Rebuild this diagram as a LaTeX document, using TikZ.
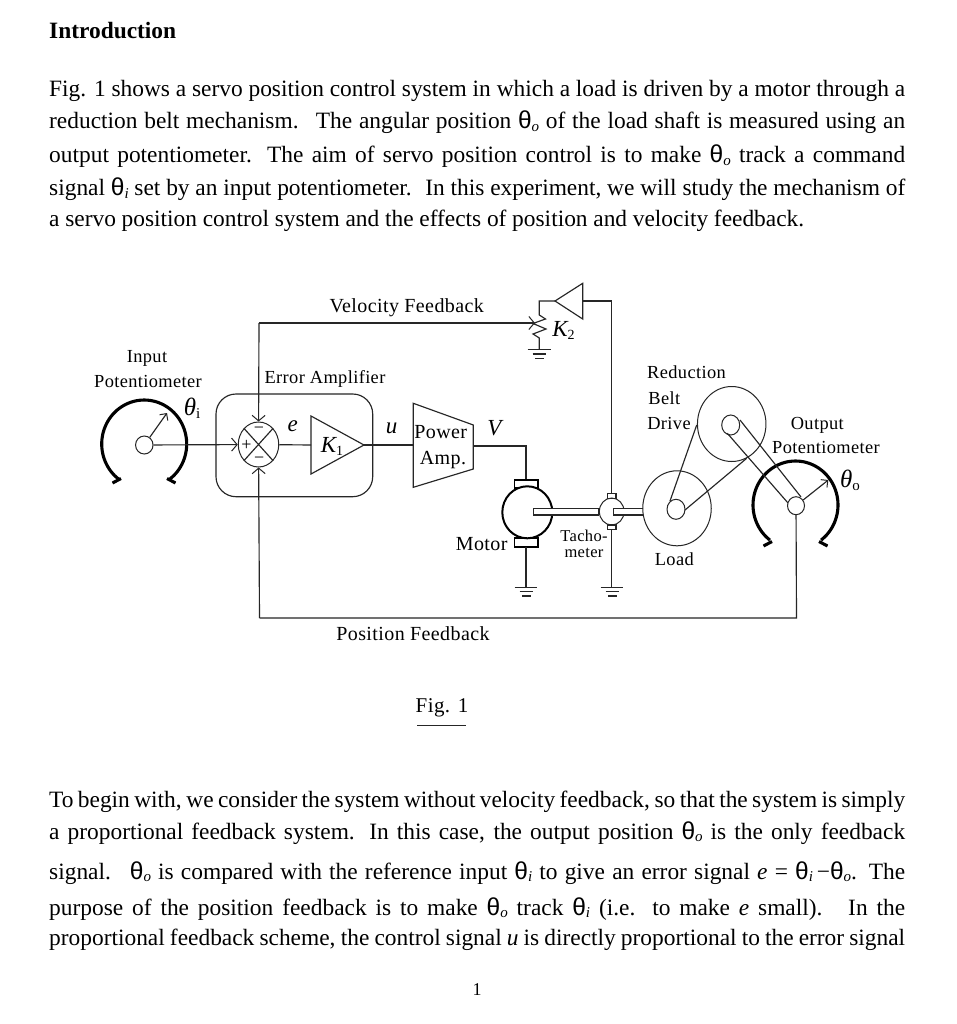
\documentclass[tikz,border=0pt]{standalone}
\usepackage{fontspec}
\setmainfont{Liberation Serif}
\newfontfamily\lsans{Liberation Sans}
\newfontfamily\dfont[LetterSpace=2]{Liberation Serif}
\usetikzlibrary{arrows.meta,shapes.geometric}
\newcommand\thb{{\lsans\fontsize{24.5}{26}\selectfont θ}}
\newcommand\tho{\thb\raisebox{-2.5pt}{\fontsize{15}{15}\selectfont\itshape o}}
\newcommand\thi{\thb\raisebox{-2.5pt}{\fontsize{15}{15}\selectfont\itshape i}}
\newcommand\bodyline[4]{\node[bodytext] (#1) at (49,#2) {\spaceskip=.25em plus 1.5em minus .2em\makebox[#3pt][s]{#4}};}
\tikzset{
 x=1pt,y=-1pt,
 bodytext/.style={anchor=base west,inner sep=0,font=\fontsize{23.4}{26}\selectfont},
 lab/.style={inner sep=0,font=\dfont\fontsize{20}{22}\selectfont},
 narrowlab/.style={inner sep=0,font=\dfont\fontsize{18.4}{20}\selectfont},
 smalllab/.style={inner sep=0,font=\dfont\fontsize{16.5}{19}\selectfont},
 sym/.style={inner sep=0,font=\fontsize{23}{25}\selectfont\itshape},
 wire/.style={line width=1.15pt,draw=black!85},
 thin circle/.style={ellipse,draw=black!85,line width=1pt,inner sep=0,fill=white},
 potarc/.style={line width=3.1pt,line cap=butt},
 tipopen/.style={-{Straight Barb[length=5.5pt,width=13pt,line width=1pt]}},
 tipsmall/.style={-{Straight Barb[length=5pt,width=10pt,line width=1pt]}},
}
\begin{document}
\begin{tikzpicture}
\useasboundingbox[fill=white] (0,0) rectangle (957,1024);
% --- text
\node[bodytext,font=\fontsize{23.4}{26}\selectfont\bfseries] (intro) at (49,39) {Introduction};
\bodyline{a1}{97}{856}{Fig. 1 shows a servo position control system in which a load is driven by a motor through a}
\bodyline{a2}{129}{856}{reduction belt mechanism.~ The angular position \tho\ of the load shaft is measured using an}
\bodyline{a3}{163}{856}{output potentiometer. The aim of servo position control is to make \tho\ track a command}
\bodyline{a4}{196}{856}{signal \thi\ set by an input potentiometer.~ In this experiment, we will study the mechanism of}
\bodyline{a5}{226}{755}{a servo position control system and the effects of position and velocity feedback.}
\bodyline{b1}{807}{856}{To begin with, we consider the system without velocity feedback, so that the system is simply}
\bodyline{b2}{839}{856}{a proportional feedback system. In this case, the output position \tho\ is the only feedback}
\bodyline{b3}{879}{856}{signal.~ \tho\ is compared with the reference input \thi\ to give an error signal \textit{e} = \thi\,−\tho. The}
\bodyline{b4}{915}{856}{purpose of the position feedback is to make \tho\ track \thi\ (i.e. to make \textit{e} small).~ In the}
\bodyline{b5}{945}{856}{proportional feedback scheme, the control signal \textit{u} is directly proportional to the error signal}
\node[anchor=base,inner sep=0,font=\fontsize{18}{20}\selectfont] (pg) at (477,995) {1};
% --- coordinates
\coordinate (k1in) at (311,445); \coordinate (k1out) at (364,445);
\coordinate (pain) at (413.3,445); \coordinate (paout) at (473.3,446);
\coordinate (vtop) at (259,323); \coordinate (vend) at (535,323);
\coordinate (vcor) at (526,446);
\coordinate (brT) at (526,480); \coordinate (brB) at (526,547);
\coordinate (g1) at (526,587); \coordinate (g2) at (611.7,587); \coordinate (g3) at (539.3,349.5);
\coordinate (takT) at (611.7,494); \coordinate (takB) at (611.7,529.5);
\coordinate (tcor) at (611.7,301);
\coordinate (k2in) at (582.7,301); \coordinate (k2out) at (555,301); \coordinate (rtop) at (539.3,301);
\coordinate (pfl) at (259.5,618); \coordinate (pfr) at (796.5,618);
% --- error amplifier box
\draw[wire,rounded corners=20pt] (216,394) rectangle (372.7,496.7);
% --- input potentiometer
\node[thin circle,minimum width=17.5pt,minimum height=18pt] (ipot) at (144.3,445) {};
\draw[potarc] plot[smooth,domain=127:413,samples=40] ({144.2+42.5*cos(\x)},{444+44*sin(\x)});
\draw[potarc] (112.5,483) -- (121,478.5);
\draw[potarc] (167,478.5) -- (175.5,483);
\coordinate (ipa) at (167,413);
\draw[wire,tipsmall] (ipot) -- (ipa);
% --- summing junction
\node[thin circle,minimum width=40.5pt,minimum height=45pt] (sum) at (258.5,444.5) {};
\draw[wire] (sum.north west) -- (sum.south east) (sum.north east) -- (sum.south west);
\node[inner sep=0,font=\fontsize{18}{18}\selectfont] (plus) at (246.5,445) {+};
\node[inner sep=0,font=\fontsize{18}{18}\selectfont] (mt) at (259,430) {−};
\node[inner sep=0,font=\fontsize{18}{18}\selectfont] (mb) at (259.3,460) {−};
\draw[wire,tipopen] (ipot) -- (sum);
\draw[wire,tipopen] (vtop) -- (sum);
\draw[wire,tipopen] (pfl) -- (sum);
% --- K1 / power amp
\draw[wire] (311,416) -- (k1out) -- (311,474) -- cycle;
\draw[wire] (sum) -- (k1in);
\draw[wire] (k1out) -- (pain);
\draw[wire] (413.3,403.3) -- (473.3,425) -- (473.3,469) -- (413.3,487.3) -- cycle;
\draw[wire] (paout) -- (vcor) -- (brT);
% --- velocity feedback
\draw[wire,tipopen] (vtop) -- (vend);
\draw[wire] (555,301) -- (582.7,283.3) -- (582.7,319) -- cycle;
\draw[wire] (k2in) -- (tcor) -- (takT);
\draw[wire] (k2out) -- (rtop) -- (539.3,315) -- (545.5,319) -- (533,323.5) -- (546,329) -- (533,334) -- (539.3,338) -- (g3);
\draw[wire] (527.5,349.5) -- (551,349.5) (532.5,354) -- (546,354) (535,358.3) -- (543.5,358.3);
% --- motor
\draw[line width=1.9pt] (514.5,480) rectangle (537.8,488);
\draw[line width=1.9pt] (514.5,538) rectangle (537.8,546.7);
\node[ellipse,draw,line width=2pt,fill=white,inner sep=0,minimum width=50pt,minimum height=52pt] (motor) at (527.3,512.3) {};
\draw[wire] (brB) -- (g1);
\draw[wire] (514.5,587.3) -- (537,587.3) (519.5,591.7) -- (532.5,591.7) (522,596) -- (530.5,596);
\draw[wire] (600.5,587.3) -- (623,587.3) (605.5,591.7) -- (618.5,591.7) (608,596) -- (616.5,596);
% --- tacho
\node[thin circle,minimum width=24.7pt,minimum height=27pt] (tacho) at (611.7,511.5) {};
\draw[wire] (607.3,493.5) rectangle (616,498.5);
\draw[wire] (607.3,525) rectangle (616,529.3);
\draw[wire] (takB) -- (g2);
\draw[wire,fill=white] (533.3,508.5) rectangle (598.5,515);
\draw[wire,fill=white] (643,508.5) -- (613.3,508.5) -- (613.3,515) -- (643,515);
% --- load and belts
\node[thin circle,fill=none,minimum width=68.5pt,minimum height=75pt] (load) at (677,508.3) {};
\node[thin circle,fill=none,minimum width=68.5pt,minimum height=75pt] (red) at (731.7,424) {};
\node[thin circle,minimum width=18pt,minimum height=20pt] (lhub) at (676,509.3) {};
\node[thin circle,minimum width=18pt,minimum height=20pt] (rhub) at (730.7,425) {};
\coordinate (b1a) at (670,501); \coordinate (b1b) at (696.7,425);
\coordinate (b2a) at (685,510); \coordinate (b2b) at (746.7,458.3);
\draw[wire] (b1a) -- (b1b);
\draw[wire] (b2a) -- (b2b);
% --- output potentiometer
\draw[potarc] plot[smooth,domain=127:413,samples=40] ({795.5+42.5*cos(\x)},{505+44*sin(\x)});
\draw[potarc] (763.5,546) -- (772,541.5);
\draw[potarc] (819,541.5) -- (827.5,546);
\coordinate (a1a) at (727.3,433.3); \coordinate (a2a) at (740,420);
\coordinate (a1b) at (788,503); \coordinate (a2b) at (801,497);
\draw[wire] (a1a) -- (a1b);
\draw[wire] (a2a) -- (a2b);
\node[thin circle,minimum width=17pt,minimum height=18pt] (opot) at (796,505.7) {};
\coordinate (opa) at (828.3,480);
\draw[wire,tipsmall] (opot) -- (opa);
% --- position feedback
\draw[wire] (opot) -- (pfr) -- (pfl);
% --- labels
\node[narrowlab] (l1) at (147,358) {Input};
\node[narrowlab] (l2) at (148,381) {Potentiometer};
\node[narrowlab] (l3) at (325,379) {Error Amplifier};
\node[lab] (l4) at (406.7,308) {Velocity Feedback};
\node[lab] (l5) at (413,634) {Position Feedback};
\node[lab] (l6) at (440.7,431.7) {Power};
\node[lab] (l7) at (443,460) {Amp.};
\node[lab] (l8) at (481.7,544.3) {Motor};
\node[smalllab] (l9) at (584,535.7) {Tacho-};
\node[smalllab] (l10) at (584,553.3) {meter};
\node[narrowlab] (l11) at (674.3,559.3) {Load};
\node[narrowlab] (l12) at (686.5,372.7) {Reduction};
\node[narrowlab] (l13) at (664.3,398.3) {Belt};
\node[narrowlab] (l14) at (669,423.3) {Drive};
\node[narrowlab] (l15) at (817.3,425) {Output};
\node[narrowlab] (l16) at (826,447.3) {Potentiometer};
\node[sym] (s1) at (292.7,425.7) {e};
\node[sym] (s2) at (391.7,428) {u};
\node[sym] (s3) at (494.3,428.3) {V};
\node[sym] (s4) at (332,446.5) {K\raisebox{-3pt}{\fontsize{14}{14}\selectfont\upshape 1}};
\node[sym] (s5) at (563.5,330) {K\raisebox{-3pt}{\fontsize{14}{14}\selectfont\upshape 2}};
\node[sym,font=\fontsize{25}{27}\selectfont\itshape] (s6) at (192,408) {θ\raisebox{-3pt}{\fontsize{15}{15}\selectfont\upshape i}};
\node[sym,font=\fontsize{25}{27}\selectfont\itshape] (s7) at (850,480) {θ\raisebox{-3pt}{\fontsize{15}{15}\selectfont\upshape o}};
\node[lab,font=\dfont\fontsize{21}{22}\selectfont] (fig) at (442,708) {Fig. 1};
\coordinate (ula) at (417,725.5); \coordinate (ulb) at (466,725.5);
\draw[wire] (ula) -- (ulb);
\end{tikzpicture}
\end{document}
